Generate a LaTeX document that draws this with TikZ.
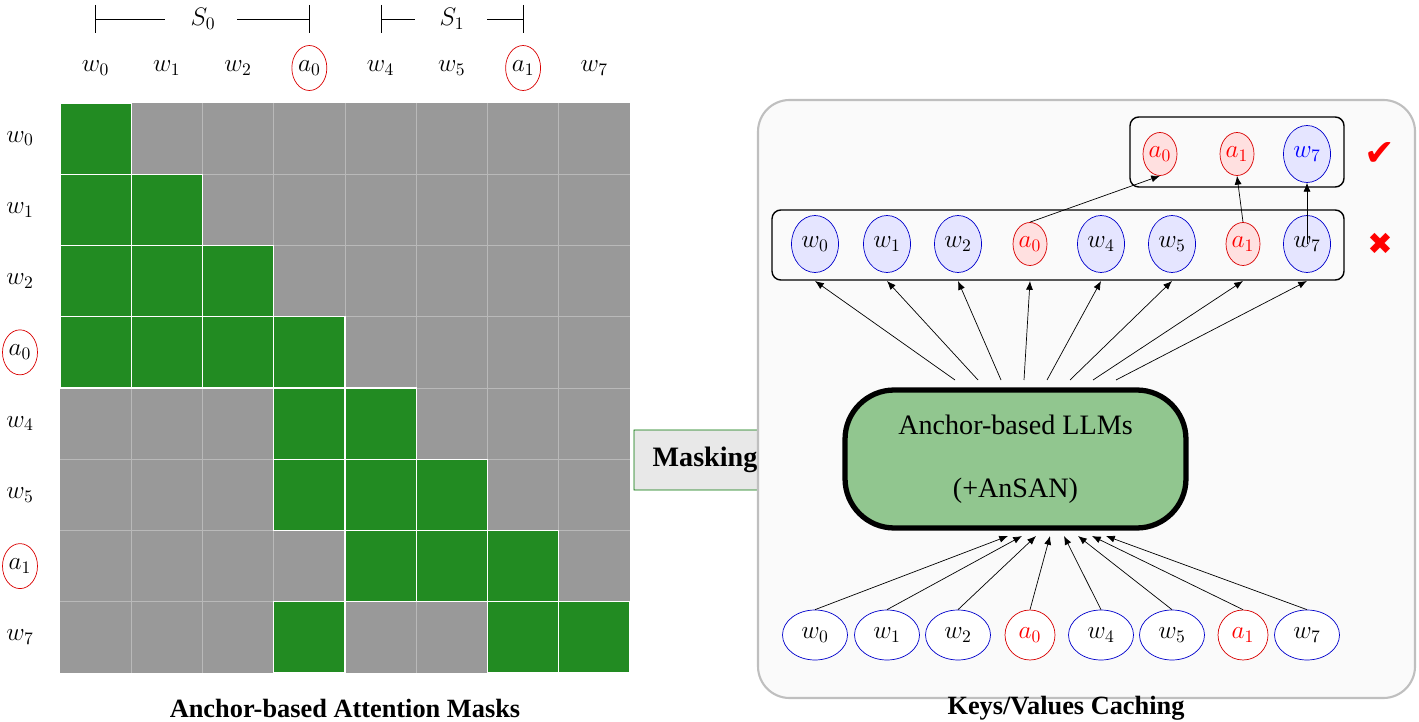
\documentclass[tikz,border=0pt]{standalone}
\usepackage{fontspec}
\setmainfont{Liberation Serif}
\usetikzlibrary{shapes.geometric,arrows.meta}
\definecolor{gcell}{HTML}{228B22}
\definecolor{gbox}{RGB}{145,198,143}
\tikzset{
 lab/.style={font=\Large},
 ared/.style={ellipse,draw=red!85!black,font=\Large,inner sep=0,minimum width=0.7cm,minimum height=0.9cm},
 bw/.style={ellipse,draw=blue!80!black,fill=white,font=\Large,inner sep=0,minimum width=1.3cm,minimum height=1.0cm},
 rw/.style={ellipse,draw=red!85!black,fill=white,text=red,font=\Large,inner sep=0,minimum width=1.0cm,minimum height=1.0cm},
 bm/.style={ellipse,draw=blue!80!black,fill=blue!10,font=\Large,inner sep=0,minimum width=0.94cm,minimum height=1.14cm},
 rm/.style={ellipse,draw=red!85!black,fill=red!12,text=red,font=\Large,inner sep=0,minimum width=0.68cm,minimum height=0.86cm},
 grp/.style={draw=black,thick,rounded corners=5pt},
 arr/.style={-{Latex[length=5pt,width=4pt]}},
 captxt/.style={font=\fontsize{15}{18}\selectfont\bfseries},
}
\begin{document}
\begin{tikzpicture}[x=0.02cm,y=-0.02cm]
\useasboundingbox (0,0) rectangle (1419,722);
% grid
\fill[gray!80] (60,103) rectangle (630,673);
\foreach \i in {1,...,7}{
 \draw[gray!55] ({60+71.25*\i},103) -- ({60+71.25*\i},673);
 \draw[gray!55] (60,{103+71.25*\i}) -- (630,{103+71.25*\i});}
\foreach \r/\c in {0/0,1/0,1/1,2/0,2/1,2/2,3/0,3/1,3/2,3/3,4/3,4/4,5/3,5/4,5/5,6/4,6/5,6/6,7/3,7/6,7/7}{
 \fill[gcell,draw=white,thick] ({60+71.25*\c},{103+71.25*\r}) rectangle ++(71.25,71.25);}
% labels
\foreach \t [count=\k from 0] in {w_0,w_1,w_2,a_0,w_4,w_5,a_1,w_7}{
 \ifnum\k=3 \node[ared] (c\k) at ({95.6+71.25*\k},68) {$\t$};
 \node[ared] (r\k) at (20,{138.6+71.25*\k}) {$\t$};
 \else\ifnum\k=6 \node[ared] (c\k) at ({95.6+71.25*\k},68) {$\t$};
 \node[ared] (r\k) at (20,{138.6+71.25*\k}) {$\t$};
 \else \node[lab] (c\k) at ({95.6+71.25*\k},68) {$\t$};
 \node[lab] (r\k) at (20,{138.6+71.25*\k}) {$\t$};\fi\fi}
% brackets
\node[lab] (s0) at (203,19) {$S_0$};
\node[lab] (s1) at (452,19) {$S_1$};
\draw (95,5) -- (95,33) (95,19) -- (165,19) (237,19) -- (309,19) (309,5) -- (309,33);
\draw (381,5) -- (381,33) (381,19) -- (415,19) (487,19) -- (523,19) (523,5) -- (523,33);
\node[captxt] (capl) at (345,708) {Anchor-based Attention Masks};
% masking arrow
\draw[fill=gray!18,draw=green!45!black] (634,430) -- (785,430) -- (785,407) -- (840,460) -- (785,512) -- (785,490) -- (634,490) -- cycle;
\node[font=\fontsize{16}{19}\selectfont\bfseries] (mask) at (705,460) {Masking};
% right panel
\draw[gray!50,line width=1.2pt,fill=gray!4,rounded corners=18pt] (758,100) rectangle (1415,698);
\node[draw=black,line width=3pt,fill=gbox,rounded corners=28pt,minimum width=6.82cm,minimum height=2.76cm,align=center,font=\fontsize{16}{36}\selectfont] (llm) at (1015.5,459) {Anchor-based LLMs\\(+AnSAN)};
\node[captxt] (capr) at (1066,708) {Keys/Values Caching};
\draw[grp] (772,210) rectangle (1344,280);
\draw[grp] (1130,117) rectangle (1344,187);
\foreach \t/\x/\s [count=\k from 0] in {w_0/815/b,w_1/887/b,w_2/958/b,a_0/1030/r,w_4/1101/b,w_5/1172/b,a_1/1243/r,w_7/1307/b}{
 \node[\s w] (b\k) at (\x,635) {$\t$};
 \node[\s m] (m\k) at (\x,244) {$\t$};
 \coordinate (bt\k) at ({1008+\k*14},536);
 \draw[arr] (b\k.north) -- (bt\k);
 \coordinate (tp\k) at ({955+\k*23},380);
 \draw[arr] (tp\k) -- (\x,281);}
\node[rm] (t0) at (1160,154) {$a_0$};
\node[rm] (t1) at (1237,154) {$a_1$};
\node[bm,text=blue] (t2) at (1307,154) {$w_7$};
\draw[arr] (m3.north) -- (t0.south);
\draw[arr] (m6.north) -- (t1.south);
\draw[arr] (m7.center) -- (t2.south);
\node[text=red,font=\huge] (ok) at (1380,154) {\fontspec{DejaVu Sans}\bfseries ✔};
\node[text=red,font=\LARGE] (no) at (1380,244) {\fontspec{DejaVu Sans}\bfseries ✖};
\end{tikzpicture}
\end{document}
